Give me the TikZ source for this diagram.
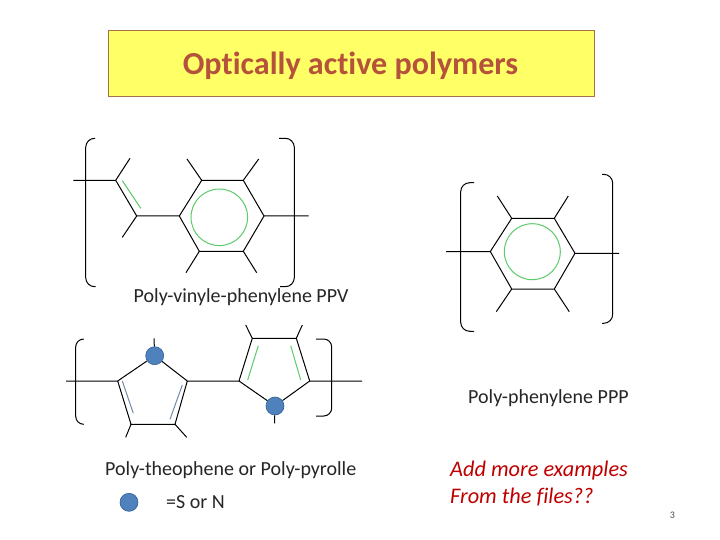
\documentclass[tikz,border=0pt]{standalone}
\usepackage{fontspec}
\setmainfont[Ligatures=NoCommon]{Carlito}
\definecolor{boxfill}{HTML}{FFFF66}
\definecolor{boxedge}{HTML}{A5714B}
\definecolor{titlecol}{HTML}{B5523B}
\definecolor{ringgreen}{HTML}{5CCB6A}
\definecolor{dblblue}{HTML}{6F8CA8}
\definecolor{hetero}{HTML}{4F81BD}
\definecolor{hetedge}{HTML}{2F5F95}
\definecolor{redtxt}{HTML}{C00000}
\tikzset{
 bond/.style={draw=black,line width=1pt},
 brk/.style={draw=black,line width=1pt,rounded corners=9pt},
 greenb/.style={draw=ringgreen,line width=1pt},
 blueb/.style={draw=dblblue,line width=1pt},
 atom/.style={circle,fill=hetero,draw=hetedge,line width=0.6pt,minimum size=18pt,inner sep=0pt},
 lab/.style={anchor=base west,inner sep=0pt,font=\fontsize{20}{24}\selectfont,text=black!85},
 redlab/.style={anchor=base west,inner sep=0pt,font=\fontsize{22.3}{26}\selectfont\itshape,text=redtxt}
}
\begin{document}
\begin{tikzpicture}[x=1pt,y=-1pt]
\useasboundingbox (0,0) rectangle (720,540);
\fill[white] (0,0) rectangle (720,540);
% title
\node[draw=boxedge,fill=boxfill,line width=0.8pt,minimum width=486.5pt,minimum height=66pt,inner sep=0pt] (title) at (351.2,63) {};
\node[inner sep=0pt,anchor=base,font=\fontsize{32.1}{36}\selectfont\bfseries,text=titlecol] (titletext) at (350.5,74.5) {Optically active polymers};
% PPV
\draw[brk] (95,138.3) -| (85.7,212) |- (95.7,286.7);
\draw[brk] (279,138.3) -| (294.3,212) |- (280,286.7);
\coordinate (v1) at (115.7,180.3); \coordinate (v2) at (136.7,216);
\coordinate (v1s) at (73.3,180.3); \coordinate (v1u) at (130,158.3); \coordinate (v2d) at (122.3,237.3);
\coordinate (a1) at (179.3,216); \coordinate (a2) at (201.7,180.3); \coordinate (a3) at (243.3,180.3);
\coordinate (a4) at (264,216); \coordinate (a5) at (243.3,251.3); \coordinate (a6) at (199.3,251.3);
\coordinate (a2s) at (187,159); \coordinate (a3s) at (258.7,159); \coordinate (a5s) at (256.7,272.7);
\coordinate (a6s) at (186,272.7); \coordinate (a4s) at (308.7,216);
\draw[bond] (v1s)--(v1) (v1)--(v1u) (v1)--(v2) (v2)--(v2d) (v2)--(a1);
\draw[bond] (a1)--(a2)--(a3)--(a4)--(a5)--(a6)--cycle;
\draw[bond] (a2)--(a2s) (a3)--(a3s) (a5)--(a5s) (a6)--(a6s) (a4)--(a4s);
\draw[greenb] (122.3,180.7)--(140.7,208.3);
\draw[greenb] (219.3,217.3) circle (28.3);
\node[lab] (ppvlab) at (133.5,302.5) {Poly-vinyle-phenylene PPV};
% PPP
\draw[brk] (474,182.7) -| (460.7,256) |- (474,331.3);
\draw[brk] (602,174.3) -| (612.7,249) |- (602,323.3);
\coordinate (b1) at (490.3,251.5); \coordinate (b2) at (511.7,218.3); \coordinate (b3) at (554.3,218.3);
\coordinate (b4) at (575,253.3); \coordinate (b5) at (554.3,289); \coordinate (b6) at (511.7,289);
\coordinate (b2s) at (497.3,196); \coordinate (b3s) at (568.3,196); \coordinate (b5s) at (569.3,311.7);
\coordinate (b6s) at (496.3,311.7); \coordinate (b1s) at (446,251.5); \coordinate (b4s) at (619,253.3);
\draw[bond] (b1)--(b2)--(b3)--(b4)--(b5)--(b6)--cycle;
\draw[bond] (b2)--(b2s) (b3)--(b3s) (b5)--(b5s) (b6)--(b6s) (b1)--(b1s) (b4)--(b4s);
\draw[greenb] (532.3,251.7) circle (28);
\node[lab] (ppplab) at (468,403) {Poly-phenylene PPP};
% thiophenes
\draw[brk,rounded corners=8pt] (83.3,339) -| (75.7,380) |- (83.3,424.3);
\draw[brk,rounded corners=8pt] (316,339) -| (331.7,378) |- (316,416);
\node[atom] (s1) at (154.7,355.7) {};
\node[atom] (s2) at (275,406) {};
\coordinate (p1) at (117.7,381); \coordinate (p2) at (187.3,381); \coordinate (p3) at (175,424.3); \coordinate (p4) at (131,424.3);
\coordinate (q1) at (239,381); \coordinate (q2) at (252.3,338.3); \coordinate (q3) at (296.3,338.3); \coordinate (q4) at (309.7,381);
\coordinate (p1s) at (66,381); \coordinate (s1s) at (154,338.3); \coordinate (p3s) at (186.7,437.3); \coordinate (p4s) at (125.7,437.3);
\coordinate (q2s) at (245.7,325); \coordinate (q3s) at (302.3,325); \coordinate (q4s) at (362,381); \coordinate (s2s) at (274.5,423.3);
\draw[bond] (p1s)--(p1) (p1)--(s1) (s1)--(p2) (p2)--(p3)--(p4)--(p1) (p2)--(q1);
\draw[bond] (s1)--(s1s) (p3)--(p3s) (p4)--(p4s);
\draw[bond] (q1)--(q2)--(q3)--(q4) (q1)--(s2) (s2)--(q4) (q2)--(q2s) (q3)--(q3s) (q4)--(q4s) (s2)--(s2s);
\draw[blueb] (122.3,381)--(133.3,413.3) (182.3,385)--(170,419.3);
\draw[greenb] (258.3,345.7)--(247.7,380) (290.7,345.7)--(300.7,380);
\node[lab] (ptlab) at (105,475) {Poly-theophene or Poly-pyrolle};
\node[atom] (legend) at (129,502.3) {};
\node[lab] (leglab) at (166,508) {=S or N};
% note
\node[redlab] (n1) at (450,476.5) {Add more examples};
\node[redlab] (n2) at (450,503.5) {From the files??};
\node[anchor=base,inner sep=0pt,font=\fontsize{10}{12}\selectfont,text=black!70] (pg) at (672.5,518.5) {3};
\end{tikzpicture}
\end{document}
